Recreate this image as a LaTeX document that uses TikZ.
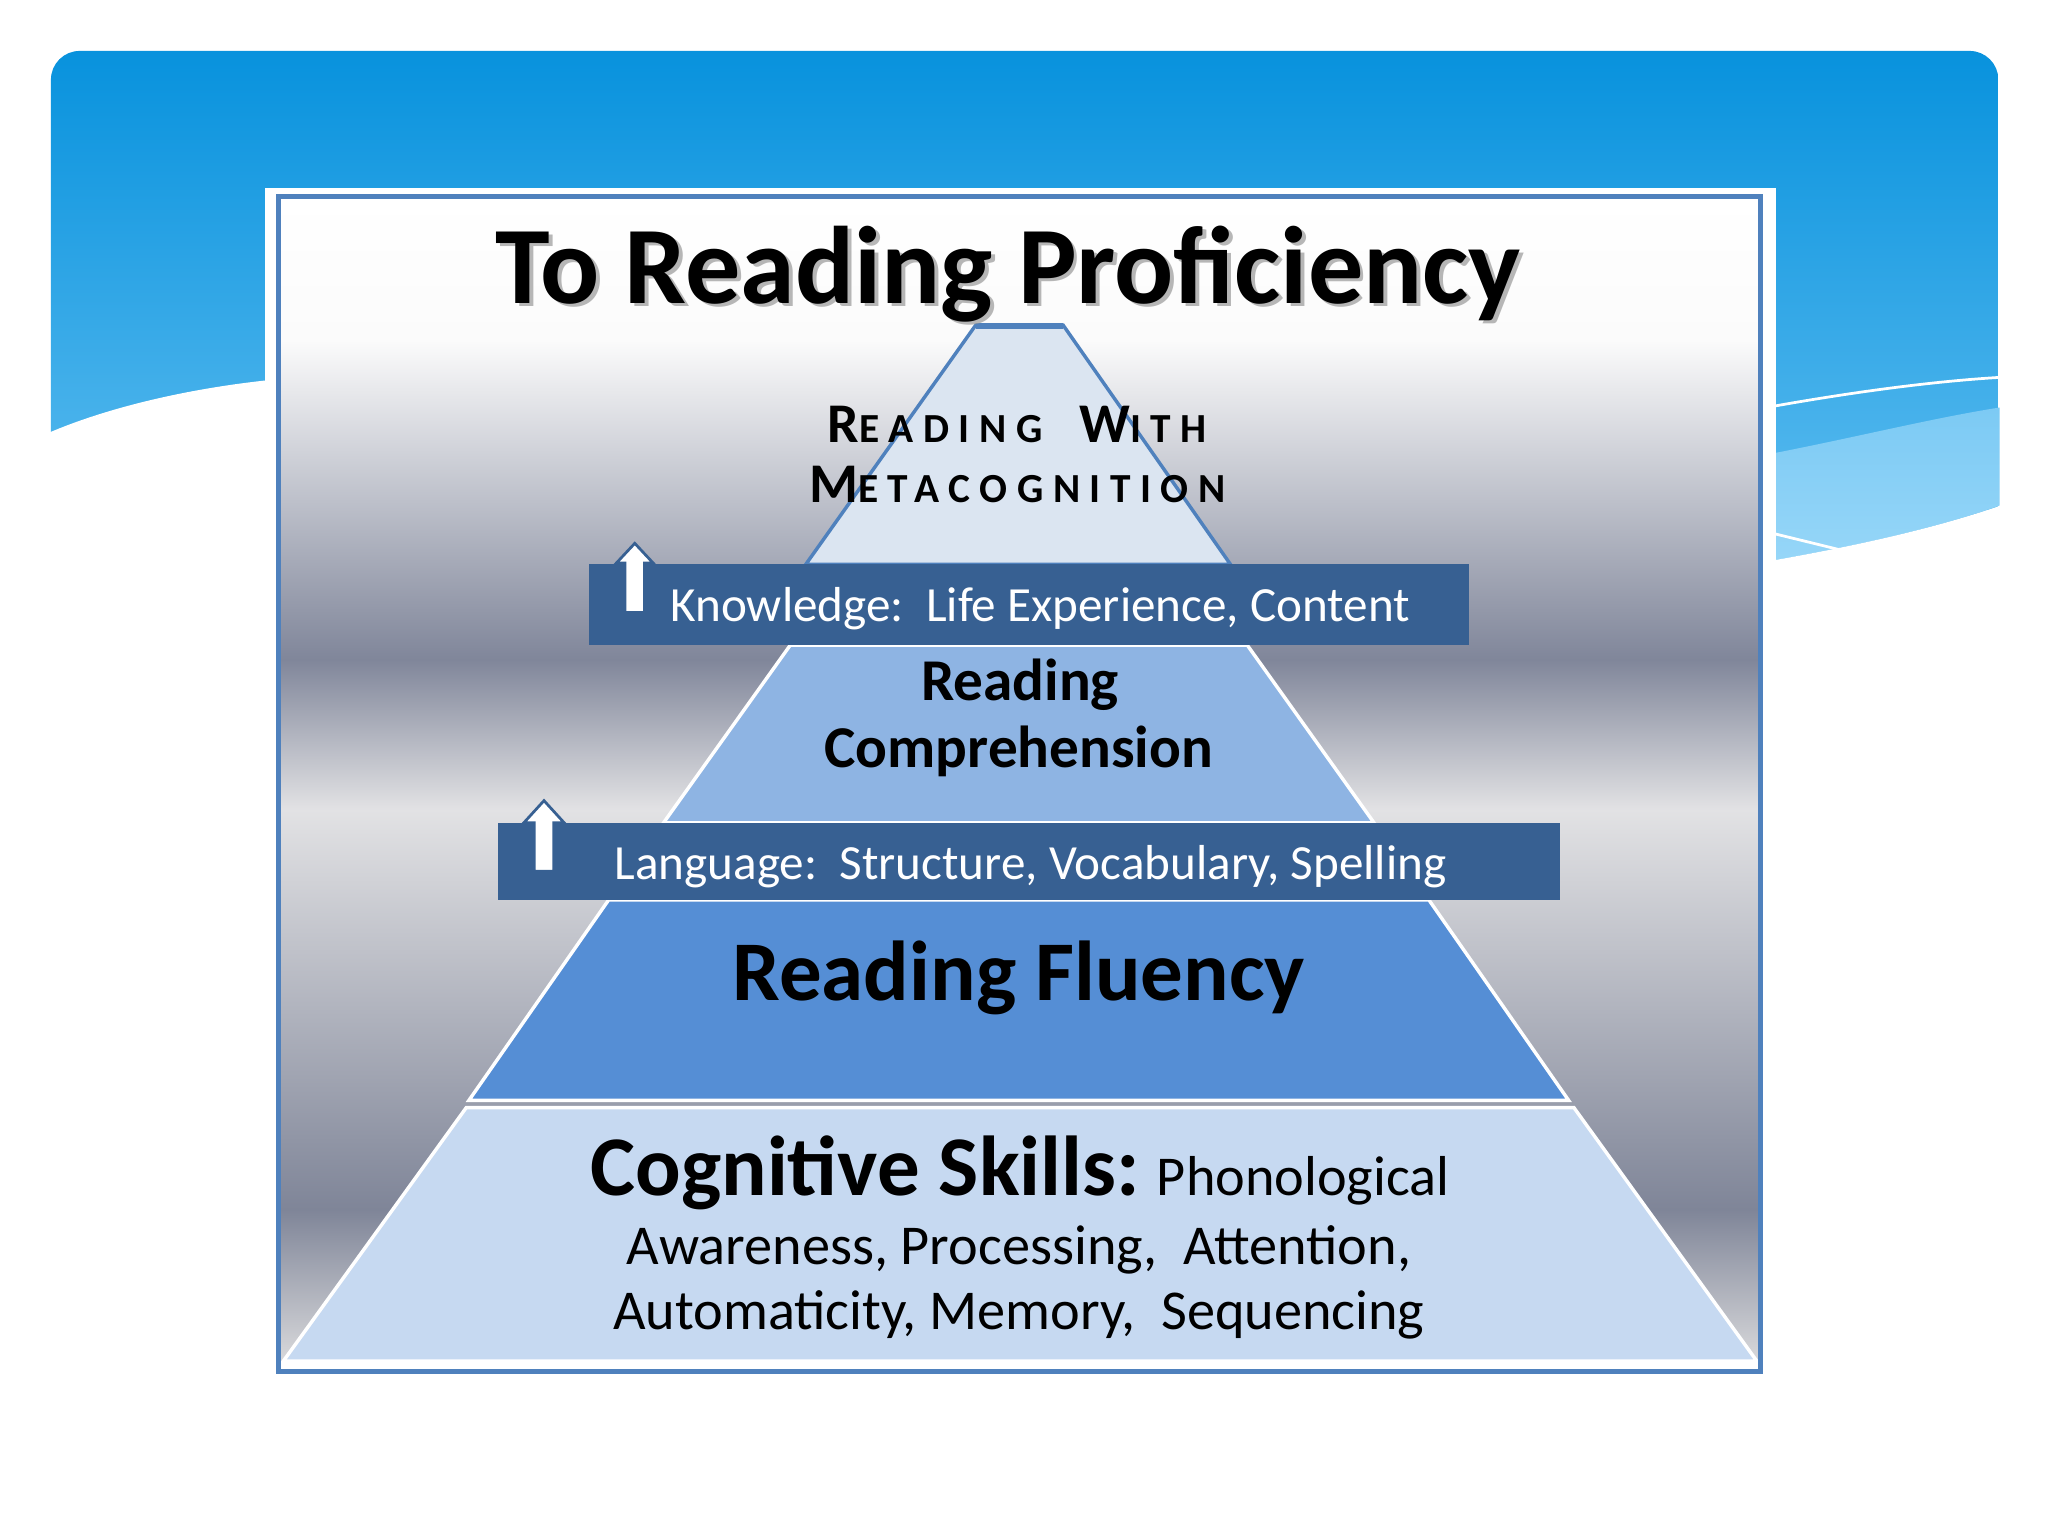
\documentclass[tikz,border=0pt]{standalone}
\usepackage{fontspec}
\setmainfont{Carlito}
\newfontfamily\metafont[LetterSpace=23]{Carlito}
\definecolor{bannerTop}{HTML}{0892DD}
\definecolor{bannerBot}{HTML}{62BFF1}
\definecolor{bandTop}{HTML}{7CCAF4}
\definecolor{bandBot}{HTML}{96D6F8}
\definecolor{frameBlue}{HTML}{4F81BD}
\definecolor{metaFill}{HTML}{DBE5F1}
\definecolor{compFill}{HTML}{8EB4E3}
\definecolor{fluFill}{HTML}{558ED5}
\definecolor{cogFill}{HTML}{C6D9F1}
\definecolor{barBlue}{HTML}{376092}
\definecolor{shA}{HTML}{DCDCDE}
\definecolor{shB}{HTML}{CFD0D4}
\definecolor{shC}{HTML}{7F8598}
\definecolor{shD}{HTML}{E2E2E4}
\definecolor{shE}{HTML}{80869A}
\definecolor{shF}{HTML}{FBFBFB}
\pgfdeclareverticalshading{boxshade}{100bp}{color(0bp)=(shA); color(25bp)=(shA); color(26.1bp)=(shB); color(31.9bp)=(shC); color(48.9bp)=(shD); color(55.3bp)=(shE); color(68.9bp)=(shF); color(75bp)=(white); color(100bp)=(white)}
\newcommand\metaBig{\fontsize{12.2}{14}\selectfont}
\newcommand\metaSmall{\fontsize{9.0}{14}\selectfont}
\tikzset{
  trap/.style={draw=white, line width=0.75pt, line join=miter},
  barbox/.style={fill=barBlue},
  upArrow/.style={fill=white, draw=barBlue, line width=0.6pt, line join=miter},
  txt/.style={inner sep=0pt, anchor=base},
  bartext/.style={txt, text=white, font=\fontsize{10.7}{12}\selectfont},
  titletext/.style={txt, font=\fontsize{24}{28}\selectfont\bfseries},
  bodytext/.style={txt, font=\fontsize{12.25}{14}\selectfont},
}
\begin{document}
\begin{tikzpicture}[x=0.01cm, y=-0.01cm]
\useasboundingbox (0,0) rectangle (1568,1176);
\fill[white] (0,0) rectangle (1568,1176);
% banner
\shade[top color=bannerTop, bottom color=bannerBot, rounded corners=0.22cm] (39,39) rectangle (1530,445);
\fill[white] (37,331.5) .. controls (80,313) and (140,298) .. (206,291) -- (206,470) -- (37,470) -- cycle;
\shade[top color=bandTop, bottom color=bandBot] (1358,347) .. controls (1420,335) and (1480,320) .. (1531,312) -- (1531,387) .. controls (1480,405) and (1420,418) .. (1358,429) -- cycle;
\fill[white] (1358,429) .. controls (1420,418) and (1480,405) .. (1532,387) -- (1532,470) -- (1358,470) -- cycle;
\draw[white, line width=0.6pt] (1358,311) .. controls (1420,300) and (1480,292) .. (1530,289);
\draw[white, line width=0.6pt] (1358,408.5) -- (1411,421.5);
% framed box
\fill[white] (203,144) rectangle (1360,1056);
\shade[shading=boxshade] (213,150.5) rectangle (1348,1050);
% pyramid levels
\filldraw[fill=metaFill, draw=frameBlue, line width=0.75pt, line join=miter] (747,249) -- (814,249) -- (942,432) -- (617,432) -- cycle;
\draw[frameBlue, line width=1.3pt] (747,249.5) -- (814,249.5);
\filldraw[trap, fill=compFill] (605,494) -- (955,494) -- (1052,630) -- (508,630) -- cycle;
\filldraw[trap, fill=fluFill] (466,689) -- (1094,689) -- (1201,842.5) -- (359,842.5) -- cycle;
\fill[white] (215,1042) rectangle (1346,1048);
\filldraw[trap, fill=cogFill] (357,848) -- (1205,848) -- (1345,1042) -- (217,1042) -- cycle;
% bars
\fill[barbox] (451,432) rectangle (1125,494);
\fill[barbox] (381,630) rectangle (1194,689);
% arrows
\filldraw[upArrow] (486,416) -- (500,431) -- (493.5,431) -- (493.5,469) -- (478.5,469) -- (478.5,431) -- (472,431) -- cycle;
\filldraw[upArrow] (416.5,613) -- (432,630) -- (424,630) -- (424,667) -- (409,667) -- (409,630) -- (401,630) -- cycle;
% border
\draw[frameBlue, line width=1.14pt] (213,150.5) rectangle (1348,1050);
% texts
\node[titletext, text=black!40, opacity=0.7] (titleshadow) at (775,235) {To Reading Proficiency};
\node[titletext] (title) at (772,232) {To Reading Proficiency};
\node[txt, font=\metafont\bfseries] (meta1) at (779,339) {\metaBig R\metaSmall EADING \hspace{4pt}\metaBig W\metaSmall ITH};
\node[txt, font=\metafont\bfseries] (meta2) at (779,385) {\metaBig M\metaSmall ETACOGNITION};
\node[bartext] (knowledge) at (796.5,476) {Knowledge:\ \ Life Experience, Content};
\node[txt, font=\fontsize{12.9}{15}\selectfont\bfseries] (comp1) at (781,536) {Reading};
\node[txt, font=\fontsize{12.9}{15}\selectfont\bfseries] (comp2) at (780,588) {Comprehension};
\node[bartext] (language) at (789,673) {Language:\ \ Structure, Vocabulary, Spelling};
\node[txt, font=\fontsize{18.5}{22}\selectfont\bfseries] (fluency) at (780,766) {Reading Fluency};
\node[bodytext] (cog1) at (781,915) {{\fontsize{18.5}{22}\selectfont\bfseries Cognitive Skills:} Phonological};
\node[bodytext] (cog2) at (780,968) {Awareness, Processing,\ \ Attention,};
\node[bodytext] (cog3) at (780,1018) {Automaticity, Memory,\ \ Sequencing};
\end{tikzpicture}
\end{document}
